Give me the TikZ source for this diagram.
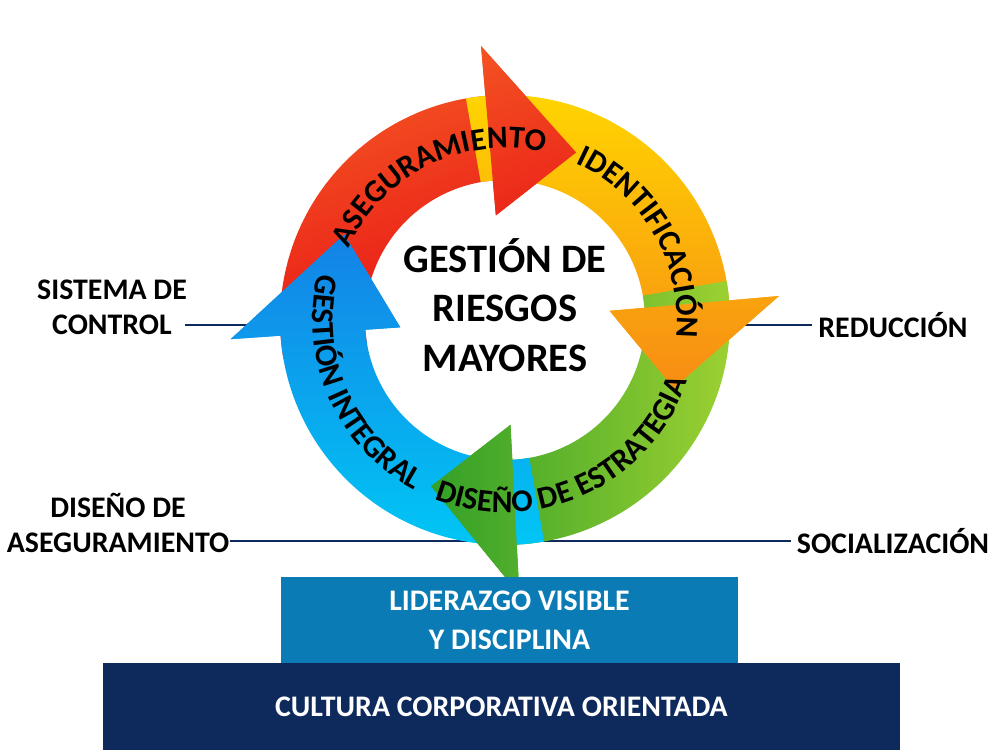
\documentclass[tikz,border=0pt]{standalone}
\usepackage{fontspec}
\setmainfont{Carlito}
\usetikzlibrary{decorations.text,calc}
\definecolor{navy}{RGB}{14,42,92}
\definecolor{midblue}{RGB}{10,123,181}
\tikzset{
 redsh/.style={left color={rgb,255:red,245;green,90;blue,35}, right color={rgb,255:red,230;green,10;blue,20}, shading angle=20},
 orsh/.style={top color={rgb,255:red,255;green,215;blue,0}, bottom color={rgb,255:red,247;green,140;blue,20}},
 grsh/.style={left color={rgb,255:red,50;green,160;blue,40}, right color={rgb,255:red,160;green,210;blue,50}},
 blsh/.style={top color={rgb,255:red,20;green,130;blue,230}, bottom color={rgb,255:red,0;green,200;blue,245}},
 lbl/.style={font=\fontsize{17}{20}\selectfont\bfseries, text=black},
 conn/.style={navy, line width=0.9pt},
 arctext/.style={decorate, decoration={text along path, text align=center, text={#1}}}
}
\newcommand\segpath[3]{(#1:4.5cm) arc[start angle=#1,end angle=#2,radius=4.5cm] -- (#2:275) -- (#3:182) -- (#2:105) -- (#2:140) arc[start angle=#2,end angle=#1,radius=2.8cm] -- cycle}
\newcommand\headpath[2]{(#1:275) -- (#2:182) -- (#1:105) -- cycle}
\newcommand\redohead[4]{\begin{scope}\clip \headpath{#2}{#3}; \shade[#4] \segpath{#1}{#2}{#3}; \end{scope}}
\begin{document}
\begin{tikzpicture}[x=0.02cm,y=0.02cm]
\fill[white] (0,0) rectangle (1000,750);
% connectors
\node[lbl, align=center] (sc) at (112,443) {SISTEMA DE\\CONTROL};
\node[lbl] (red) at (893,425) {REDUCCIÓN};
\node[lbl, align=center] (da) at (118,227) {DISEÑO DE\\ASEGURAMIENTO};
\node[lbl] (soc) at (893,209) {SOCIALIZACIÓN};
\coordinate (p1) at (280,425);
\coordinate (p2) at (740,425);
\draw[conn] (185,425) -- (p1);
\draw[conn] (p2) -- (red.west);
\draw[conn] (230,209) -- (soc.west);
\begin{scope}[shift={(505,430)}]
 \shade[redsh] \segpath{190}{95}{67};
 \shade[orsh] \segpath{100}{5}{-22};
 \shade[grsh] \segpath{10}{-87}{-114};
 \shade[blsh] \segpath{280}{184}{152};
 \redohead{190}{95}{67}{redsh}
 \redohead{100}{5}{-22}{orsh}
 \redohead{10}{-87}{-114}{grsh}
 \redohead{280}{184}{152}{blsh}
 \path[arctext={|\fontsize{18}{20}\selectfont\bfseries|ASEGURAMIENTO}] (166:3.44cm) arc[start angle=166,end angle=66,radius=3.44cm];
 \path[arctext={|\fontsize{18}{20}\selectfont\bfseries|IDENTIFICACIÓN}] (84:3.44cm) arc[start angle=84,end angle=-24,radius=3.44cm];
 \path[arctext={|\fontsize{18}{20}\selectfont\bfseries|DISEÑO DE ESTRATEGIA}] (-128:3.85cm) arc[start angle=-128,end angle=-2,radius=3.85cm];
 \path[arctext={|\fontsize{18}{20}\selectfont\bfseries|GESTIÓN INTEGRAL}] (140:3.85cm) arc[start angle=140,end angle=268,radius=3.85cm];
 \node[font=\fontsize{23}{28}\selectfont\bfseries, align=center] (ctr) at (0,15) {GESTIÓN DE\\RIESGOS\\MAYORES};
\end{scope}
\node[fill=midblue, minimum width=457*0.02cm, minimum height=86*0.02cm, inner sep=0pt, text=white, font=\fontsize{17}{22}\selectfont\bfseries, align=center] (lid) at (509.5,130) {LIDERAZGO VISIBLE\\Y DISCIPLINA};
\node[fill=navy, minimum width=797*0.02cm, minimum height=87*0.02cm, inner sep=0pt, text=white, font=\fontsize{17}{22}\selectfont\bfseries] (cul) at (501.5,43.5) {CULTURA CORPORATIVA ORIENTADA};
\end{tikzpicture}
\end{document}
